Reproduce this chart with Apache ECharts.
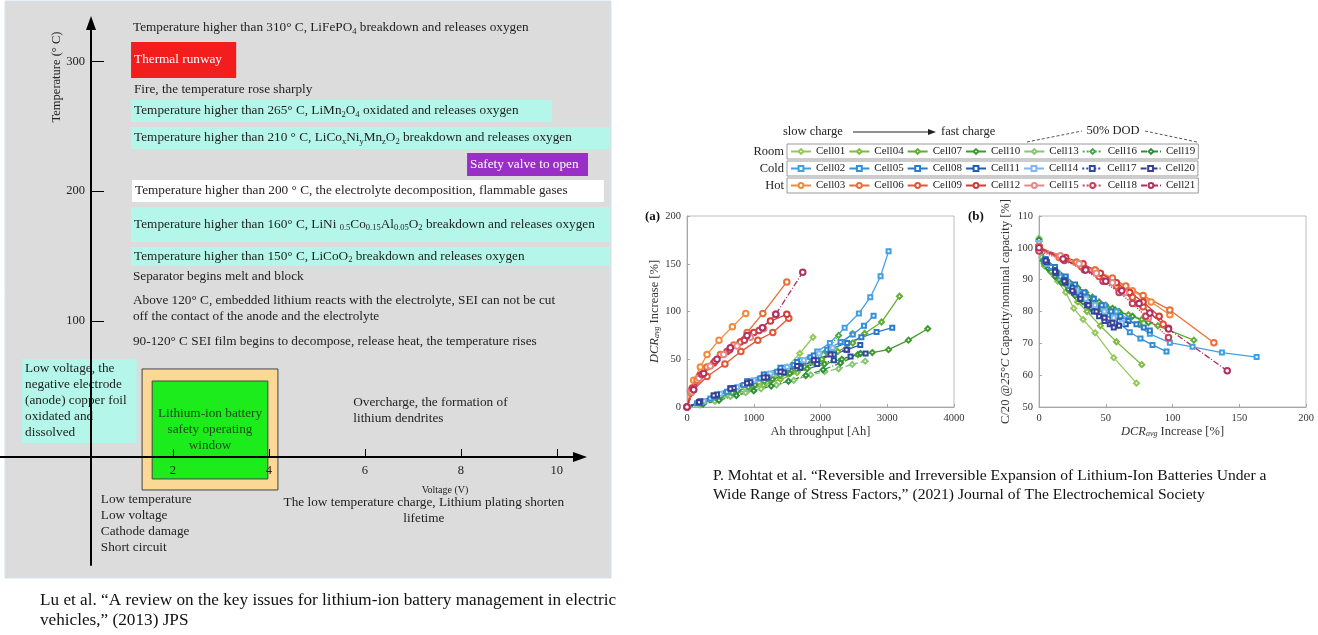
<!DOCTYPE html>
<html>
<head>
<meta charset="utf-8">
<title>Li-ion battery safety window and DCR / capacity fade</title>
<script src="https://cdn.jsdelivr.net/npm/echarts@6.0.0/dist/echarts.min.js"></script>
<style>
html, body { margin: 0; padding: 0; background: #fff; }
#main { width: 1318px; height: 635px; }
</style>
</head>
<body>
<div id="main"></div>
<script>
// ---- right panel data: Ah throughput, DCR increase [%], C/20 capacity [%] per cell ----
const roomCells = ['Cell01', 'Cell04', 'Cell07', 'Cell10', 'Cell13', 'Cell16', 'Cell19'];
const coldCells = ['Cell02', 'Cell05', 'Cell08', 'Cell11', 'Cell14', 'Cell17', 'Cell20'];
const hotCells = ['Cell03', 'Cell06', 'Cell09', 'Cell12', 'Cell15', 'Cell18', 'Cell21'];

const ah01 = [0, 200, 420, 650, 870, 1080, 1290, 1500, 1690, 1888];
const dcr01 = [0, 4, 9, 14, 20, 26, 33, 42, 56, 73];
const cap01 = [100, 94.3, 92.3, 89.5, 86, 81, 77.5, 73.3, 65.5, 57.5];
const ah04 = [0, 220, 440, 680, 920, 1150, 1400, 1650, 1900, 2180, 2480];
const dcr04 = [0, 4, 8, 13, 18, 23, 29, 36, 46, 58, 77];
const cap04 = [101, 95, 93, 91, 89, 86.5, 83, 80, 75.5, 70.5, 63.3];
const ah07 = [0, 230, 470, 720, 980, 1240, 1500, 1760, 2020, 2260, 2484, 2661, 2915, 3184];
const dcr07 = [0, 4, 10, 16, 22, 28, 35, 42, 50, 58, 67, 77, 89, 116];
const cap07 = [101, 95.5, 93, 90.5, 88.5, 86.5, 84.5, 82.5, 81, 80, 79, 77.5, 75.5, 71];
const ah10 = [0, 250, 500, 760, 1020, 1280, 1540, 1800, 2060, 2320, 2560, 2776, 3019, 3318, 3607];
const dcr10 = [0, 5, 11, 17, 23, 29, 35, 40, 45, 50, 55, 57, 60, 70, 82];
const cap10 = [100, 95, 93, 91, 89, 87.5, 86, 84.5, 83, 82, 81, 80.5, 80, 78.5, 76.5];
const ah13 = [0, 200, 420, 650, 880, 1110, 1340, 1600, 1853, 2063, 2272, 2476, 2670];
const dcr13 = [0, 2, 6, 11, 15, 19, 23, 28, 33.6, 37, 40, 44.6, 48];
const cap13 = [103, 97, 94, 92, 90.5, 89, 87.5, 86, 84, 83, 82, 80.5, 79.5];
const ah16 = [0, 210, 440, 680, 920, 1160, 1400, 1640, 1880, 2080, 2272];
const dcr16 = [0, 4, 9, 15, 21, 27, 33, 40, 48, 58, 75];
const cap16 = [102, 95, 92.5, 90, 88, 86, 84, 82, 80, 78.5, 76];
const ah19 = [0, 240, 480, 740, 1000, 1260, 1520, 1780, 2040, 2300, 2600];
const dcr19 = [0, 3, 7, 12, 17, 22, 27, 33, 39, 46, 56];
const cap19 = [102.5, 96, 93.5, 91, 89, 87, 85, 83, 81, 79.5, 77.5];

const ah02 = [0, 200, 450, 700, 950, 1200, 1450, 1700, 1950, 2140, 2362, 2575, 2746, 2900, 3020];
const dcr02 = [0, 5, 12, 20, 27, 34, 41, 49, 58, 67, 83, 98, 115, 137, 163];
const cap02 = [101, 96, 93, 90.5, 88, 86, 84, 82, 80, 77.5, 73, 70.2, 68.9, 67.1, 65.7];
const ah05 = [0, 150, 350, 600, 850, 1100, 1350, 1600, 1850, 2100, 2300, 2484, 2651, 2795];
const dcr05 = [0, 4, 9, 16, 23, 30, 37, 44, 52, 60, 68, 76, 85, 95.5];
const cap05 = [100, 96, 94, 91, 88, 85.5, 83, 81, 79, 76.5, 73.5, 71.5, 69.5, 67.4];
const ah08 = [0, 180, 400, 650, 900, 1150, 1400, 1650, 1900, 2150, 2400, 2612, 2840, 3075];
const dcr08 = [0, 5, 12, 20, 27, 34, 41, 47, 54, 61, 67, 73, 78.5, 83];
const cap08 = [100, 96.5, 94, 91, 88.5, 86, 84, 82, 80, 78.5, 77, 76, 75, 74];
const ah11 = [0, 200, 450, 700, 950, 1200, 1450, 1700, 1950, 2200, 2400, 2596];
const dcr11 = [0, 5, 12, 19, 25, 31, 37, 43, 49, 55, 60, 65];
const cap11 = [100, 96, 93, 90, 87.5, 85, 83, 81, 79.5, 78, 77, 76];
const ah14 = [0, 250, 500, 750, 1000, 1250, 1500, 1750, 1980, 2180];
const dcr14 = [0, 6, 14, 21, 28, 35, 42, 49, 56, 62];
const cap14 = [101.5, 95, 92, 89, 86.5, 84, 82, 80, 78, 76.5];
const ah17 = [0, 200, 450, 700, 950, 1200, 1450, 1700, 1950, 2200, 2450, 2676];
const dcr17 = [0, 6, 13, 20, 26, 31, 36, 41, 45, 49, 53, 56];
const cap17 = [100, 95.5, 92, 89, 86, 84, 82, 80, 78.5, 77, 76, 75];
const ah20 = [0, 180, 400, 650, 900, 1150, 1400, 1650, 1900, 2150, 2390];
const dcr20 = [0, 5, 12, 19, 25, 31, 37, 43, 49, 55, 60];
const cap20 = [100, 96, 92.5, 89.5, 86.5, 84, 82, 80, 78, 76.5, 75.5];

const ah03 = [0, 50, 100, 200, 300, 480, 680, 880];
const dcr03 = [0, 17, 28, 42, 55, 70, 84, 98];
const cap03 = [100, 97, 95.5, 93, 90, 86.5, 83, 79];
const ah06 = [0, 60, 150, 300, 500, 700, 900, 1136, 1495];
const dcr06 = [0, 15, 28, 42, 55, 65, 78, 98, 131];
const cap06 = [100.5, 97, 95.5, 93, 90.5, 88, 85, 80.5, 70.2];
const ah09 = [0, 100, 300, 568, 807, 1061, 1285, 1525];
const dcr09 = [0, 18, 32, 45, 58, 70, 78, 93];
const cap09 = [99.5, 96.5, 94, 91, 88, 84.5, 81.5, 76];
const ah12 = [0, 80, 200, 400, 600, 800, 1000, 1250, 1495];
const dcr12 = [0, 20, 33, 46, 58, 68, 78, 90, 97];
const cap12 = [100, 97, 95, 92, 89, 86, 83, 78.5, 74.7];
const ah15 = [0, 70, 180, 350, 550, 750, 950, 1150];
const dcr15 = [0, 16, 30, 43, 55, 64, 73, 82];
const cap15 = [100, 97.5, 95, 92, 89, 86, 82.5, 78];
const ah18 = [0, 90, 220, 420, 640, 860, 1080, 1330];
const dcr18 = [0, 19, 34, 48, 60, 70, 80, 97];
const cap18 = [99, 96, 93, 89.5, 86, 82.5, 78.5, 71.8];
const ah21 = [0, 100, 250, 450, 650, 900, 1130, 1330, 1734];
const dcr21 = [0, 18, 35, 50, 62, 75, 83, 97, 141];
const cap21 = [100, 96.5, 93, 89.5, 86.5, 82.5, 79.5, 74.5, 61.4];

// ---- left panel: annotations placed in (voltage V, temperature °C) ----
const boxLabels = [
  'Thermal runway',
  'Temperature higher than 265° C, LiMn{s|2}O{s|4} oxidated and releases oxygen',
  'Temperature higher than 210 ° C, LiCo{s|x}Ni{s|y}Mn{s|z}O{s|2} breakdown and releases oxygen',
  'Safety valve to open',
  'Temperature higher than 200 ° C, the electrolyte decomposition, flammable gases',
  'Temperature higher than 160° C, LiNi {s|0.5}Co{s|0.15}Al{s|0.05}O{s|2} breakdown and releases oxygen',
  'Temperature higher than 150° C, LiCoO{s|2} breakdown and releases oxygen',
  'Low voltage, the\nnegative electrode\n(anode) copper foil\noxidated and\ndissolved',
  '',
  'Lithium-ion battery\nsafety operating\nwindow'
];
// [V from, V to, T low, T high]
const boxRange = [
  [1.13, 3.32, 287.4, 315.2],
  [1.13, 9.9, 253.4, 270.4],
  [1.13, 11.11, 232.6, 249.6],
  [8.13, 10.65, 211.7, 229.5],
  [1.15, 10.98, 191.7, 208.6],
  [1.13, 11.11, 160.8, 187.8],
  [1.13, 11.11, 142.3, 156.9],
  [-1.14, 1.25, 5.7, 70.5],
  [1.36, 4.19, -30.6, 62.8],
  [1.57, 3.98, -22.1, 53.5]
];
const boxKind = ['red', 'cyan', 'cyan', 'purple', 'white', 'cyan', 'cyan', 'cyan', 'orange', 'green'];

const noteLabels = [
  'Temperature higher than 310° C, LiFePO{s|4} breakdown and releases oxygen',
  'Fire, the temperature rose sharply',
  'Separator begins melt and block',
  'Above 120° C, embedded lithium reacts with the electrolyte, SEI can not be cut\noff the contact of the anode and the electrolyte',
  '90-120° C SEI film begins to decompose, release heat, the temperature rises',
  'Overcharge, the formation of\nlithium dendrites',
  'Low temperature\nLow voltage\nCathode damage\nShort circuit',
  'The low temperature charge, Lithium plating shorten\nlifetime'
];
const notePoint = [[1.17, 326], [1.19, 278.1], [1.17, 133.8], [1.17, 109.5], [1.17, 83.6], [5.76, 30.4], [0.5, -56.1], [7.23, -46.8]];
const noteAlign = ['left', 'left', 'left', 'left', 'left', 'left', 'left', 'center'];

const tempTicks = [100, 200, 300];
const voltTicks = [2, 4, 6, 8, 10];

// ---- styles ----
const serif = 'Liberation Serif';
const roomColors = ['#94c85a', '#7dbb42', '#62ad35', '#3f9b2c', '#86c872', '#4aa84a', '#2f8f3c'];
const coldColors = ['#42a0e0', '#3590d6', '#2a7bc8', '#1f5fae', '#7fb8e8', '#2c4a9e', '#3b3f96'];
const hotColors = ['#f28a3c', '#ec6d36', '#e2553a', '#d43a35', '#e48a86', '#c9405a', '#b03060'];
const lineTypes = ['solid', 'solid', 'solid', 'solid', 'dashed', 'dotted', [6, 2, 1, 2]];
const boxFill = { red: '#f31d1d', cyan: '#b5f6ea', purple: '#9a2fc6', white: '#ffffff', orange: '#fbd896', green: '#1cec1c' };
const noteSize = 13.25;

const cellAh = { Cell01: ah01, Cell04: ah04, Cell07: ah07, Cell10: ah10, Cell13: ah13, Cell16: ah16, Cell19: ah19,
  Cell02: ah02, Cell05: ah05, Cell08: ah08, Cell11: ah11, Cell14: ah14, Cell17: ah17, Cell20: ah20,
  Cell03: ah03, Cell06: ah06, Cell09: ah09, Cell12: ah12, Cell15: ah15, Cell18: ah18, Cell21: ah21 };
const cellDcr = { Cell01: dcr01, Cell04: dcr04, Cell07: dcr07, Cell10: dcr10, Cell13: dcr13, Cell16: dcr16, Cell19: dcr19,
  Cell02: dcr02, Cell05: dcr05, Cell08: dcr08, Cell11: dcr11, Cell14: dcr14, Cell17: dcr17, Cell20: dcr20,
  Cell03: dcr03, Cell06: dcr06, Cell09: dcr09, Cell12: dcr12, Cell15: dcr15, Cell18: dcr18, Cell21: dcr21 };
const cellCap = { Cell01: cap01, Cell04: cap04, Cell07: cap07, Cell10: cap10, Cell13: cap13, Cell16: cap16, Cell19: cap19,
  Cell02: cap02, Cell05: cap05, Cell08: cap08, Cell11: cap11, Cell14: cap14, Cell17: cap17, Cell20: cap20,
  Cell03: cap03, Cell06: cap06, Cell09: cap09, Cell12: cap12, Cell15: cap15, Cell18: cap18, Cell21: cap21 };

function pairs(xs, ys) { return xs.map((x, i) => [x, ys[i]]); }

const subRich = { s: { fontSize: 8.5, fontFamily: serif, verticalAlign: 'bottom', lineHeight: 16 } };

const series = [];

// left diagram boxes
series.push({
  type: 'custom', xAxisIndex: 0, yAxisIndex: 0, clip: false, silent: true, z: 1, animation: false,
  data: boxRange.map((r, i) => [r[0], r[2], r[1], r[3], i]),
  encode: { x: [0, 2], y: [1, 3] },
  renderItem: function (params, api) {
    const i = api.value(4);
    const kind = boxKind[i];
    const p0 = api.coord([api.value(0), api.value(3)]);
    const p1 = api.coord([api.value(2), api.value(1)]);
    const w = p1[0] - p0[0], h = p1[1] - p0[1];
    const framed = kind === 'orange' || kind === 'green';
    const children = [{
      type: 'rect', shape: { x: p0[0], y: p0[1], width: w, height: h },
      style: { fill: boxFill[kind], stroke: framed ? '#444' : null, lineWidth: framed ? 1 : 0 }
    }];
    if (boxLabels[i]) {
      const light = kind === 'red' || kind === 'purple';
      const center = kind === 'green';
      children.push({
        type: 'text',
        x: center ? p0[0] + w / 2 : p0[0] + 3,
        y: p0[1] + h / 2,
        style: {
          text: boxLabels[i], rich: subRich,
          fill: light ? '#ffffff' : (center ? '#1f4a1f' : '#1e1e1e'),
          fontFamily: serif, fontSize: noteSize, lineHeight: 16,
          align: center ? 'center' : 'left', verticalAlign: 'middle'
        }
      });
    }
    return { type: 'group', children: children };
  }
});

// left diagram free notes
series.push({
  type: 'custom', xAxisIndex: 0, yAxisIndex: 0, clip: false, silent: true, z: 2, animation: false,
  data: notePoint.map((p, i) => [p[0], p[1], i]),
  encode: { x: 0, y: 1 },
  renderItem: function (params, api) {
    const i = api.value(2);
    const p = api.coord([api.value(0), api.value(1)]);
    return {
      type: 'text', x: p[0], y: p[1],
      style: {
        text: noteLabels[i], rich: subRich, fill: '#1e1e1e',
        fontFamily: serif, fontSize: noteSize, lineHeight: 16,
        align: noteAlign[i], verticalAlign: 'middle'
      }
    };
  }
});

// right charts: same cells in (a) and (b)
[[roomCells, roomColors, 'emptyDiamond', 5], [coldCells, coldColors, 'emptyRect', 4], [hotCells, hotColors, 'emptyCircle', 5.5]]
  .forEach(([names, colors, sym, size]) => names.forEach((n, j) => {
    const base = {
      name: n, type: 'line', symbol: sym, symbolSize: size,
      color: colors[j], lineStyle: { width: 1.3, type: lineTypes[j] }, itemStyle: { borderWidth: 1.1 },
      animation: false, silent: true, z: 3
    };
    series.push(Object.assign({}, base, { xAxisIndex: 1, yAxisIndex: 1, data: pairs(cellAh[n], cellDcr[n]) }));
    series.push(Object.assign({}, base, { xAxisIndex: 2, yAxisIndex: 2, data: pairs(cellDcr[n], cellCap[n]) }));
  }));

const frameAxisLine = { show: true, onZero: false, lineStyle: { color: '#a8a8a8', width: 1 } };
const frameTick = { show: true, inside: true, length: 3, lineStyle: { color: '#a8a8a8' } };
const frameLabel = { color: '#333', fontFamily: serif, fontSize: 10.5, margin: 6, formatter: v => String(v) };
const dcrName = {
  color: '#333', fontFamily: serif, fontSize: 12.5,
  rich: {
    i: { fontStyle: 'italic', fontSize: 12.5, fontFamily: serif, color: '#333' },
    s: { fontStyle: 'italic', fontSize: 8, fontFamily: serif, color: '#333', verticalAlign: 'bottom' }
  }
};

function legendRow(names, top) {
  return {
    data: names, left: 787, top: top, orient: 'horizontal',
    itemWidth: 20, itemHeight: 6, itemGap: 3, padding: [2, 3],
    borderColor: '#9a9a9a', borderWidth: 1, selectedMode: false,
    textStyle: { fontFamily: serif, fontSize: 11, color: '#222' }
  };
}

const option = {
  animation: false,
  textStyle: { fontFamily: serif },
  grid: [
    { left: 0, top: 23, width: 580, height: 542, show: false, outerBoundsMode: 'none' },
    { left: 687, right: 364, top: 216, bottom: 228, show: true, borderColor: '#bdbdbd', borderWidth: 1, outerBoundsMode: 'none' },
    { left: 1039, right: 12, top: 216, bottom: 228, show: true, borderColor: '#bdbdbd', borderWidth: 1, outerBoundsMode: 'none' }
  ],
  xAxis: [
    {
      gridIndex: 0, type: 'value', min: -1.6, max: 10.483, position: 'bottom', offset: -108, z: 5,
      axisLine: { show: true, onZero: false, symbol: ['none', 'triangle'], symbolSize: [10, 14], lineStyle: { color: '#000', width: 2 } },
      axisTick: { show: true, inside: true, length: 8, customValues: voltTicks, lineStyle: { color: '#000', width: 1 } },
      axisLabel: { show: true, customValues: voltTicks, color: '#222', fontFamily: serif, fontSize: 12.5, margin: 7 },
      splitLine: { show: false }
    },
    {
      gridIndex: 1, type: 'value', min: 0, max: 4000, interval: 1000,
      axisLine: frameAxisLine, axisTick: frameTick, axisLabel: frameLabel, splitLine: { show: false },
      name: 'Ah throughput [Ah]', nameLocation: 'middle', nameGap: 18,
      nameTextStyle: { color: '#333', fontFamily: serif, fontSize: 12.5 }
    },
    {
      gridIndex: 2, type: 'value', min: 0, max: 200, interval: 50,
      axisLine: frameAxisLine, axisTick: frameTick, axisLabel: frameLabel, splitLine: { show: false },
      name: '{i|DCR}{s|avg} Increase [%]', nameLocation: 'middle', nameGap: 18, nameTextStyle: dcrName
    }
  ],
  yAxis: [
    {
      gridIndex: 0, type: 'value', min: -88.5, max: 329.8, position: 'left', offset: -91, z: 5,
      axisLine: { show: true, onZero: false, symbol: ['none', 'triangle'], symbolSize: [10, 14], lineStyle: { color: '#000', width: 2 } },
      axisTick: { show: true, inside: true, length: 13, customValues: tempTicks, lineStyle: { color: '#000', width: 1 } },
      axisLabel: { show: true, customValues: tempTicks, color: '#222', fontFamily: serif, fontSize: 12.5, margin: 6 },
      splitLine: { show: false }
    },
    {
      gridIndex: 1, type: 'value', min: 0, max: 200, interval: 50,
      axisLine: frameAxisLine, axisTick: frameTick, axisLabel: frameLabel, splitLine: { show: false },
      name: '{i|DCR}{s|avg} Increase [%]', nameLocation: 'middle', nameGap: 24, nameTextStyle: dcrName
    },
    {
      gridIndex: 2, type: 'value', min: 50, max: 110, interval: 10,
      axisLine: frameAxisLine, axisTick: frameTick, axisLabel: frameLabel, splitLine: { show: false },
      name: 'C/20 {i|@25°C} Capacity/nominal capacity [%]', nameLocation: 'middle', nameGap: 27,
      nameTextStyle: {
        color: '#333', fontFamily: serif, fontSize: 12.6,
        rich: { i: { fontStyle: 'italic', fontSize: 12.6, fontFamily: serif, color: '#333' } }
      }
    }
  ],
  legend: [legendRow(roomCells, 144), legendRow(coldCells, 161), legendRow(hotCells, 178)],
  graphic: { elements: [
    { type: 'rect', z: -10, shape: { x: 5, y: 1, width: 606, height: 577 }, style: { fill: '#dcdcdc', stroke: '#d3e1ee', lineWidth: 1 } },
    { type: 'text', x: 57, y: 77, rotation: Math.PI / 2, style: { text: 'Temperature (° C)', fontFamily: serif, fontSize: 12.5, fill: '#222', align: 'center', verticalAlign: 'middle' } },
    { type: 'text', x: 445, y: 490, style: { text: 'Voltage (V)', fontFamily: serif, fontSize: 10, fill: '#222', align: 'center', verticalAlign: 'middle' } },
    { type: 'text', x: 40, y: 600, style: { text: 'Lu et al. “A review on the key issues for lithium-ion battery management in electric', fontFamily: serif, fontSize: 17.2, fill: '#111', verticalAlign: 'middle' } },
    { type: 'text', x: 40, y: 620, style: { text: 'vehicles,” (2013) JPS', fontFamily: serif, fontSize: 17.2, fill: '#111', verticalAlign: 'middle' } },
    { type: 'text', x: 713, y: 476, style: { text: 'P. Mohtat et al. “Reversible and Irreversible Expansion of Lithium-Ion Batteries Under a', fontFamily: serif, fontSize: 15.6, fill: '#111', verticalAlign: 'middle' } },
    { type: 'text', x: 713, y: 495, style: { text: 'Wide Range of Stress Factors,” (2021) Journal of The Electrochemical Society', fontFamily: serif, fontSize: 15.6, fill: '#111', verticalAlign: 'middle' } },
    { type: 'text', x: 783, y: 132, style: { text: 'slow charge', fontFamily: serif, fontSize: 12.5, fill: '#222', verticalAlign: 'middle' } },
    { type: 'line', shape: { x1: 853, y1: 132, x2: 930, y2: 132 }, style: { stroke: '#222', lineWidth: 1 } },
    { type: 'polygon', shape: { points: [[936, 132], [928, 129], [928, 135]] }, style: { fill: '#222' } },
    { type: 'text', x: 941, y: 132, style: { text: 'fast charge', fontFamily: serif, fontSize: 12.5, fill: '#222', verticalAlign: 'middle' } },
    { type: 'text', x: 1113, y: 131, style: { text: '50% DOD', fontFamily: serif, fontSize: 12.5, fill: '#222', align: 'center', verticalAlign: 'middle' } },
    { type: 'line', shape: { x1: 1027, y1: 142, x2: 1082, y2: 131 }, style: { stroke: '#555', lineWidth: 1, lineDash: [3, 2] } },
    { type: 'line', shape: { x1: 1145, y1: 131, x2: 1197, y2: 142 }, style: { stroke: '#555', lineWidth: 1, lineDash: [3, 2] } },
    { type: 'text', x: 784, y: 152, style: { text: 'Room', fontFamily: serif, fontSize: 12.5, fill: '#222', align: 'right', verticalAlign: 'middle' } },
    { type: 'text', x: 784, y: 169, style: { text: 'Cold', fontFamily: serif, fontSize: 12.5, fill: '#222', align: 'right', verticalAlign: 'middle' } },
    { type: 'text', x: 784, y: 186, style: { text: 'Hot', fontFamily: serif, fontSize: 12.5, fill: '#222', align: 'right', verticalAlign: 'middle' } },
    { type: 'text', x: 645, y: 217, style: { text: '(a)', fontFamily: serif, fontSize: 13, fontWeight: 'bold', fill: '#111', verticalAlign: 'middle' } },
    { type: 'text', x: 968, y: 217, style: { text: '(b)', fontFamily: serif, fontSize: 13, fontWeight: 'bold', fill: '#111', verticalAlign: 'middle' } }
  ] },
  series: series
};

const chart = echarts.init(document.getElementById('main'));
chart.setOption(option);
</script>
</body>
</html>
